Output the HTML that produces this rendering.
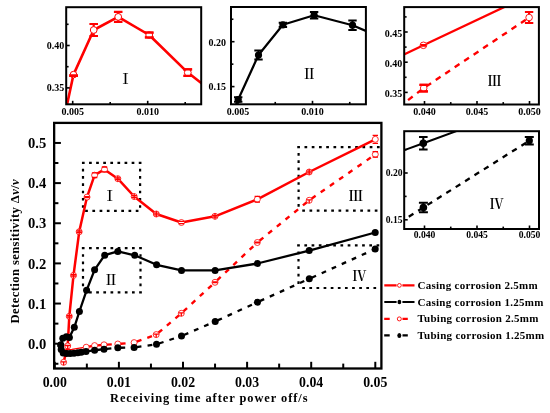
<!DOCTYPE html>
<html><head><meta charset="utf-8"><title>Detection sensitivity chart</title>
<style>html,body{margin:0;padding:0;background:#fff;}svg{display:block;}</style>
</head><body>
<svg width="550" height="413" viewBox="0 0 550 413"><rect width="550" height="413" fill="#fff"/><g><path d="M54.15 363.77H58.4" stroke="#000" stroke-width="2.0"/><path d="M54.15 343.70H60.9" stroke="#000" stroke-width="2.0"/><path d="M54.15 323.62H58.4" stroke="#000" stroke-width="2.0"/><path d="M54.15 303.55H60.9" stroke="#000" stroke-width="2.0"/><path d="M54.15 283.47H58.4" stroke="#000" stroke-width="2.0"/><path d="M54.15 263.40H60.9" stroke="#000" stroke-width="2.0"/><path d="M54.15 243.32H58.4" stroke="#000" stroke-width="2.0"/><path d="M54.15 223.25H60.9" stroke="#000" stroke-width="2.0"/><path d="M54.15 203.17H58.4" stroke="#000" stroke-width="2.0"/><path d="M54.15 183.10H60.9" stroke="#000" stroke-width="2.0"/><path d="M54.15 163.02H58.4" stroke="#000" stroke-width="2.0"/><path d="M54.15 142.95H60.9" stroke="#000" stroke-width="2.0"/><path d="M54.80 368.50V361.8" stroke="#000" stroke-width="2.0"/><path d="M86.85 368.50V363.6" stroke="#000" stroke-width="2.0"/><path d="M118.90 368.50V361.8" stroke="#000" stroke-width="2.0"/><path d="M150.95 368.50V363.6" stroke="#000" stroke-width="2.0"/><path d="M183.00 368.50V361.8" stroke="#000" stroke-width="2.0"/><path d="M215.05 368.50V363.6" stroke="#000" stroke-width="2.0"/><path d="M247.10 368.50V361.8" stroke="#000" stroke-width="2.0"/><path d="M279.15 368.50V363.6" stroke="#000" stroke-width="2.0"/><path d="M311.20 368.50V361.8" stroke="#000" stroke-width="2.0"/><path d="M343.25 368.50V363.6" stroke="#000" stroke-width="2.0"/><path d="M375.30 368.50V361.8" stroke="#000" stroke-width="2.0"/><text x="46.30" y="348.80" font-family="'Liberation Serif', 'Times New Roman', serif" font-size="14.6" font-weight="bold" text-anchor="end">0.0</text><text x="46.30" y="308.65" font-family="'Liberation Serif', 'Times New Roman', serif" font-size="14.6" font-weight="bold" text-anchor="end">0.1</text><text x="46.30" y="268.50" font-family="'Liberation Serif', 'Times New Roman', serif" font-size="14.6" font-weight="bold" text-anchor="end">0.2</text><text x="46.30" y="228.35" font-family="'Liberation Serif', 'Times New Roman', serif" font-size="14.6" font-weight="bold" text-anchor="end">0.3</text><text x="46.30" y="188.20" font-family="'Liberation Serif', 'Times New Roman', serif" font-size="14.6" font-weight="bold" text-anchor="end">0.4</text><text x="46.30" y="148.05" font-family="'Liberation Serif', 'Times New Roman', serif" font-size="14.6" font-weight="bold" text-anchor="end">0.5</text><text x="54.80" y="386.60" font-family="'Liberation Serif', 'Times New Roman', serif" font-size="13.8" font-weight="bold" text-anchor="middle">0.00</text><text x="118.90" y="386.60" font-family="'Liberation Serif', 'Times New Roman', serif" font-size="13.8" font-weight="bold" text-anchor="middle">0.01</text><text x="183.00" y="386.60" font-family="'Liberation Serif', 'Times New Roman', serif" font-size="13.8" font-weight="bold" text-anchor="middle">0.02</text><text x="247.10" y="386.60" font-family="'Liberation Serif', 'Times New Roman', serif" font-size="13.8" font-weight="bold" text-anchor="middle">0.03</text><text x="311.20" y="386.60" font-family="'Liberation Serif', 'Times New Roman', serif" font-size="13.8" font-weight="bold" text-anchor="middle">0.04</text><text x="375.30" y="386.60" font-family="'Liberation Serif', 'Times New Roman', serif" font-size="13.8" font-weight="bold" text-anchor="middle">0.05</text><text x="110.00" y="402.00" font-family="'Liberation Serif', 'Times New Roman', serif" font-size="12.4" font-weight="bold" text-anchor="start" letter-spacing="0.95">Receiving time after power off/s</text><text transform="translate(18.8 323.4) rotate(-90)" font-family="'Liberation Serif', 'Times New Roman', serif" font-size="12.6" font-weight="bold" letter-spacing="0.41">Detection sensitivity Δ<tspan font-style="italic">v</tspan>/<tspan font-style="italic">v</tspan></text><path d="M81.95 162.90h2.7M89.05 162.90h2.7M96.15 162.90h2.7M103.25 162.90h2.7M110.35 162.90h2.7M117.45 162.90h2.7M124.55 162.90h2.7M131.65 162.90h2.7M138.75 162.90h2.7M83.00 168.85v2.7M83.00 176.11v2.7M83.00 183.37v2.7M83.00 190.63v2.7M83.00 197.89v2.7M83.00 205.15v2.7M140.10 168.85v2.7M140.10 176.11v2.7M140.10 183.37v2.7M140.10 190.63v2.7M140.10 197.89v2.7M140.10 205.15v2.7M85.15 210.80h2.7M92.38 210.80h2.7M99.61 210.80h2.7M106.84 210.80h2.7M114.06 210.80h2.7M121.29 210.80h2.7M128.52 210.80h2.7M135.75 210.80h2.7M81.85 248.20h2.7M89.01 248.20h2.7M96.18 248.20h2.7M103.34 248.20h2.7M110.50 248.20h2.7M117.66 248.20h2.7M124.83 248.20h2.7M131.99 248.20h2.7M139.15 248.20h2.7M83.00 254.15v2.7M83.00 261.47v2.7M83.00 268.80v2.7M83.00 276.12v2.7M83.00 283.45v2.7M140.50 254.15v2.7M140.50 261.47v2.7M140.50 268.80v2.7M140.50 276.12v2.7M140.50 283.45v2.7M89.05 292.40h2.7M96.21 292.40h2.7M103.36 292.40h2.7M110.52 292.40h2.7M117.68 292.40h2.7M124.84 292.40h2.7M131.99 292.40h2.7M139.15 292.40h2.7M297.25 147.10h2.7M304.50 147.10h2.7M311.74 147.10h2.7M318.99 147.10h2.7M326.23 147.10h2.7M333.48 147.10h2.7M340.72 147.10h2.7M347.97 147.10h2.7M355.21 147.10h2.7M362.46 147.10h2.7M369.70 147.10h2.7M376.95 147.10h2.7M298.60 153.05v2.7M298.60 160.32v2.7M298.60 167.59v2.7M298.60 174.86v2.7M298.60 182.14v2.7M298.60 189.41v2.7M298.60 196.68v2.7M298.60 203.95v2.7M302.25 210.70h2.7M309.50 210.70h2.7M316.75 210.70h2.7M324.00 210.70h2.7M331.25 210.70h2.7M338.50 210.70h2.7M345.75 210.70h2.7M353.00 210.70h2.7M360.25 210.70h2.7M367.50 210.70h2.7M374.75 210.70h2.7M297.15 245.40h2.7M304.37 245.40h2.7M311.59 245.40h2.7M318.80 245.40h2.7M326.02 245.40h2.7M333.24 245.40h2.7M340.46 245.40h2.7M347.68 245.40h2.7M354.90 245.40h2.7M362.11 245.40h2.7M369.33 245.40h2.7M376.55 245.40h2.7M298.50 251.45v2.7M298.50 258.90v2.7M298.50 266.35v2.7M298.50 273.80v2.7M298.50 281.25v2.7M302.25 288.00h2.7M309.37 288.00h2.7M316.49 288.00h2.7M323.61 288.00h2.7M330.73 288.00h2.7M337.85 288.00h2.7M344.97 288.00h2.7M352.09 288.00h2.7M359.21 288.00h2.7M366.33 288.00h2.7M373.45 288.00h2.7" stroke="#000" stroke-width="2.2" fill="none"/><polyline points="60.00,350.20 64.00,350.00 68.00,349.70 72.00,349.30 76.50,348.60 81.00,347.90 86.20,347.20" fill="none" stroke="#ff0000" stroke-width="1.2" stroke-linejoin="round"/><path d="M86.20 347.20L94.60 345.60M94.60 345.60L104.00 344.80M104.00 344.80L117.80 344.00M117.80 344.00L134.10 342.60M134.10 342.60L156.20 334.60M156.20 334.60L181.30 313.30M181.30 313.30L215.00 282.30M215.00 282.30L257.30 242.50M257.30 242.50L309.20 200.30M309.20 200.30L375.30 154.40" fill="none" stroke="#ff0000" stroke-width="2.4" stroke-dasharray="5 6.2" stroke-dashoffset="8.4"/><polyline points="60.80,345.00 61.20,349.50 63.20,353.00 66.60,353.60 70.20,353.60 74.00,353.30 77.80,352.80 81.20,352.20 86.00,351.40" fill="none" stroke="#000000" stroke-width="2.3" stroke-linejoin="round" stroke-dasharray="5 6"/><path d="M86.00 351.40L94.60 350.30M94.60 350.30L104.00 349.20M104.00 349.20L117.80 347.80M117.80 347.80L134.10 347.50M134.10 347.50L156.50 344.30M156.50 344.30L181.50 336.00M181.50 336.00L215.20 321.50M215.20 321.50L257.40 302.20M257.40 302.20L309.30 278.80M309.30 278.80L375.20 249.00" fill="none" stroke="#000000" stroke-width="2.3" stroke-dasharray="4.8 6.2" stroke-dashoffset="8.4"/><polyline points="60.80,345.00 62.80,338.20 66.30,336.80 69.40,337.60 74.30,327.30 79.40,311.50 86.60,290.30 94.60,269.80 104.70,255.20 117.80,251.40 134.70,255.30 156.60,264.80 181.50,270.40 215.10,270.40 257.40,263.50 309.20,250.60 375.20,232.50" fill="none" stroke="#000000" stroke-width="2.3" stroke-linejoin="round"/><polyline points="63.60,362.30 67.70,345.90 69.30,316.30 73.50,275.40 79.20,231.80 87.00,197.10 94.60,175.20 104.50,169.40 117.80,178.70 134.20,196.50 156.30,214.00 181.40,222.50 215.00,216.30 257.30,199.30 309.20,172.00 375.30,139.30" fill="none" stroke="#ff0000" stroke-width="2.5" stroke-linejoin="round"/><circle cx="86.20" cy="347.20" r="3.0" fill="#fff" stroke="#ff0000" stroke-width="0.8"/><circle cx="94.60" cy="345.60" r="3.0" fill="#fff" stroke="#ff0000" stroke-width="0.8"/><circle cx="104.00" cy="344.80" r="3.0" fill="#fff" stroke="#ff0000" stroke-width="0.8"/><circle cx="117.80" cy="344.00" r="3.0" fill="#fff" stroke="#ff0000" stroke-width="0.8"/><circle cx="134.10" cy="342.60" r="3.0" fill="#fff" stroke="#ff0000" stroke-width="0.8"/><circle cx="156.20" cy="334.60" r="3.0" fill="#fff" stroke="#ff0000" stroke-width="0.8"/><path d="M153.50 334.20h5.4M156.20 334.20V337.60" stroke="#ff0000" stroke-width="1.3" fill="none"/><circle cx="181.30" cy="313.30" r="3.0" fill="#fff" stroke="#ff0000" stroke-width="0.8"/><path d="M178.60 312.90h5.4M181.30 312.90V316.30" stroke="#ff0000" stroke-width="1.3" fill="none"/><circle cx="215.00" cy="282.30" r="3.0" fill="#fff" stroke="#ff0000" stroke-width="0.8"/><path d="M212.30 281.90h5.4M212.30 282.70h5.4" stroke="#ff0000" stroke-width="1.3" fill="none"/><circle cx="257.30" cy="242.50" r="3.0" fill="#fff" stroke="#ff0000" stroke-width="0.8"/><path d="M254.60 242.10h5.4M254.60 242.90h5.4" stroke="#ff0000" stroke-width="1.3" fill="none"/><circle cx="309.20" cy="200.30" r="3.0" fill="#fff" stroke="#ff0000" stroke-width="0.8"/><path d="M306.50 199.90h5.4M309.20 199.90V203.30" stroke="#ff0000" stroke-width="1.3" fill="none"/><circle cx="375.30" cy="154.40" r="3.0" fill="#fff" stroke="#ff0000" stroke-width="0.8"/><path d="M372.60 151.70h5.4M372.60 157.10h5.4" stroke="#ff0000" stroke-width="1.3" fill="none"/><circle cx="60.80" cy="345.00" r="3.5" fill="#000"/><circle cx="61.20" cy="349.50" r="3.5" fill="#000"/><circle cx="63.20" cy="353.00" r="3.5" fill="#000"/><circle cx="66.60" cy="353.60" r="3.5" fill="#000"/><circle cx="70.20" cy="353.60" r="3.5" fill="#000"/><circle cx="74.00" cy="353.30" r="3.5" fill="#000"/><circle cx="77.80" cy="352.80" r="3.5" fill="#000"/><circle cx="81.20" cy="352.20" r="3.5" fill="#000"/><circle cx="86.00" cy="351.40" r="3.5" fill="#000"/><circle cx="94.60" cy="350.30" r="3.5" fill="#000"/><circle cx="104.00" cy="349.20" r="3.5" fill="#000"/><circle cx="117.80" cy="347.80" r="3.5" fill="#000"/><circle cx="134.10" cy="347.50" r="3.5" fill="#000"/><circle cx="156.50" cy="344.30" r="3.5" fill="#000"/><circle cx="181.50" cy="336.00" r="3.5" fill="#000"/><circle cx="215.20" cy="321.50" r="3.5" fill="#000"/><circle cx="257.40" cy="302.20" r="3.5" fill="#000"/><circle cx="309.30" cy="278.80" r="3.5" fill="#000"/><circle cx="375.20" cy="249.00" r="3.5" fill="#000"/><circle cx="60.80" cy="345.00" r="3.5" fill="#000"/><circle cx="62.80" cy="338.20" r="3.5" fill="#000"/><circle cx="66.30" cy="336.80" r="3.5" fill="#000"/><circle cx="69.40" cy="337.60" r="3.5" fill="#000"/><circle cx="74.30" cy="327.30" r="3.5" fill="#000"/><circle cx="79.40" cy="311.50" r="3.5" fill="#000"/><circle cx="86.60" cy="290.30" r="3.5" fill="#000"/><circle cx="94.60" cy="269.80" r="3.5" fill="#000"/><circle cx="104.70" cy="255.20" r="3.5" fill="#000"/><circle cx="117.80" cy="251.40" r="3.5" fill="#000"/><circle cx="134.70" cy="255.30" r="3.5" fill="#000"/><circle cx="156.60" cy="264.80" r="3.5" fill="#000"/><circle cx="181.50" cy="270.40" r="3.5" fill="#000"/><circle cx="215.10" cy="270.40" r="3.5" fill="#000"/><circle cx="257.40" cy="263.50" r="3.5" fill="#000"/><circle cx="309.20" cy="250.60" r="3.5" fill="#000"/><circle cx="375.20" cy="232.50" r="3.5" fill="#000"/><circle cx="63.60" cy="362.30" r="3.0" fill="#fff" stroke="#ff0000" stroke-width="0.8"/><path d="M60.90 361.90h5.4M63.60 361.90V365.30" stroke="#ff0000" stroke-width="1.3" fill="none"/><circle cx="67.70" cy="345.90" r="3.0" fill="#fff" stroke="#ff0000" stroke-width="0.8"/><path d="M65.00 345.50h5.4M67.70 345.50V348.90" stroke="#ff0000" stroke-width="1.3" fill="none"/><circle cx="69.30" cy="316.30" r="3.0" fill="#fff" stroke="#ff0000" stroke-width="0.8"/><path d="M66.60 315.50h5.4M66.60 317.10h5.4M69.30 313.30V319.30" stroke="#ff0000" stroke-width="1.3" fill="none"/><circle cx="73.50" cy="275.40" r="3.0" fill="#fff" stroke="#ff0000" stroke-width="0.8"/><path d="M70.80 274.60h5.4M70.80 276.20h5.4M73.50 272.40V278.40" stroke="#ff0000" stroke-width="1.3" fill="none"/><circle cx="79.20" cy="231.80" r="3.0" fill="#fff" stroke="#ff0000" stroke-width="0.8"/><path d="M76.50 231.00h5.4M76.50 232.60h5.4M79.20 228.80V234.80" stroke="#ff0000" stroke-width="1.3" fill="none"/><circle cx="87.00" cy="197.10" r="3.0" fill="#fff" stroke="#ff0000" stroke-width="0.8"/><path d="M84.30 196.60h5.4M84.30 197.60h5.4" stroke="#ff0000" stroke-width="1.3" fill="none"/><circle cx="94.60" cy="175.20" r="3.0" fill="#fff" stroke="#ff0000" stroke-width="0.8"/><path d="M91.90 172.90h5.4M91.90 177.50h5.4" stroke="#ff0000" stroke-width="1.3" fill="none"/><circle cx="104.50" cy="169.40" r="3.0" fill="#fff" stroke="#ff0000" stroke-width="0.8"/><path d="M101.80 167.00h5.4M101.80 171.80h5.4" stroke="#ff0000" stroke-width="1.3" fill="none"/><circle cx="117.80" cy="178.70" r="3.0" fill="#fff" stroke="#ff0000" stroke-width="0.8"/><path d="M115.10 177.90h5.4M115.10 179.50h5.4M117.80 175.70V181.70" stroke="#ff0000" stroke-width="1.3" fill="none"/><circle cx="134.20" cy="196.50" r="3.0" fill="#fff" stroke="#ff0000" stroke-width="0.8"/><path d="M131.50 195.70h5.4M131.50 197.30h5.4M134.20 193.50V199.50" stroke="#ff0000" stroke-width="1.3" fill="none"/><circle cx="156.30" cy="214.00" r="3.0" fill="#fff" stroke="#ff0000" stroke-width="0.8"/><path d="M153.60 213.20h5.4M153.60 214.80h5.4M156.30 211.00V217.00" stroke="#ff0000" stroke-width="1.3" fill="none"/><circle cx="181.40" cy="222.50" r="3.0" fill="#fff" stroke="#ff0000" stroke-width="0.8"/><path d="M178.70 221.30h5.4M178.70 223.70h5.4" stroke="#ff0000" stroke-width="1.3" fill="none"/><circle cx="215.00" cy="216.30" r="3.0" fill="#fff" stroke="#ff0000" stroke-width="0.8"/><path d="M212.30 215.50h5.4M212.30 217.10h5.4M215.00 213.30V219.30" stroke="#ff0000" stroke-width="1.3" fill="none"/><circle cx="257.30" cy="199.30" r="3.0" fill="#fff" stroke="#ff0000" stroke-width="0.8"/><path d="M254.60 196.40h5.4M254.60 202.20h5.4" stroke="#ff0000" stroke-width="1.3" fill="none"/><circle cx="309.20" cy="172.00" r="3.0" fill="#fff" stroke="#ff0000" stroke-width="0.8"/><path d="M306.50 171.20h5.4M306.50 172.80h5.4M309.20 169.00V175.00" stroke="#ff0000" stroke-width="1.3" fill="none"/><circle cx="375.30" cy="139.30" r="3.0" fill="#fff" stroke="#ff0000" stroke-width="0.8"/><path d="M372.60 135.30h5.4M372.60 143.30h5.4" stroke="#ff0000" stroke-width="1.3" fill="none"/><text x="109.80" y="200.80" font-family="'Noto Serif CJK SC', 'Liberation Serif', serif" font-size="14" font-weight="600" text-anchor="middle">Ⅰ</text><text x="111.00" y="284.50" font-family="'Noto Serif CJK SC', 'Liberation Serif', serif" font-size="14" font-weight="600" text-anchor="middle">Ⅱ</text><text x="355.80" y="200.80" font-family="'Noto Serif CJK SC', 'Liberation Serif', serif" font-size="14.5" font-weight="600" text-anchor="middle">Ⅲ</text><text x="359.50" y="281.30" font-family="'Noto Serif CJK SC', 'Liberation Serif', serif" font-size="14" font-weight="600" text-anchor="middle">Ⅳ</text><rect x="54.15" y="122.90" width="327.25" height="245.60" fill="none" stroke="#000" stroke-width="2.3"/></g><path d="M384.3 285.4H396.6M402.4 285.4H414.5" stroke="#ff0000" stroke-width="2.1"/><circle cx="399.4" cy="285.4" r="1.9" fill="#fff" stroke="#ff0000" stroke-width="0.9"/><path d="M384.3 302.0H396.6M402.4 302.0H414.5" stroke="#000" stroke-width="2.1"/><ellipse cx="399.4" cy="302.0" rx="1.9" ry="2.3" fill="#000"/><path d="M384.2 318.9H389.7M402.5 318.9H407.8" stroke="#ff0000" stroke-width="2.1"/><circle cx="399.3" cy="318.9" r="2.0" fill="#fff" stroke="#ff0000" stroke-width="0.9"/><path d="M384.2 335.4H389.7M402.5 335.4H407.8" stroke="#000" stroke-width="2.1"/><ellipse cx="399.3" cy="335.4" rx="2.0" ry="2.5" fill="#000"/><text x="417.50" y="288.80" font-family="'Liberation Serif', 'Times New Roman', serif" font-size="11" font-weight="bold" text-anchor="start" letter-spacing="0.27">Casing corrosion 2.5mm</text><text x="417.50" y="305.60" font-family="'Liberation Serif', 'Times New Roman', serif" font-size="11" font-weight="bold" text-anchor="start" letter-spacing="0.27">Casing corrosion 1.25mm</text><text x="417.50" y="322.30" font-family="'Liberation Serif', 'Times New Roman', serif" font-size="11" font-weight="bold" text-anchor="start" letter-spacing="0.27">Tubing corrosion 2.5mm</text><text x="417.50" y="339.10" font-family="'Liberation Serif', 'Times New Roman', serif" font-size="11" font-weight="bold" text-anchor="start" letter-spacing="0.27">Tubing corrosion 1.25mm</text><clipPath id="c1"><rect x="66.2" y="7.2" width="135.0" height="97.1"/></clipPath><g clip-path="url(#c1)"><polyline points="57.70,148.00 73.50,74.60 93.70,30.00 118.20,16.90 149.20,35.00 187.80,72.60 237.70,111.60" fill="none" stroke="#ff0000" stroke-width="2.6" stroke-linejoin="round"/><circle cx="73.5" cy="74.6" r="3.3" fill="#fff" stroke="#ff0000" stroke-width="1.0"/><path d="M69.1 75.6h8.9" stroke="#ff0000" stroke-width="2.8"/><path d="M93.70 24.00V36.00M89.40 24.00h8.6M89.40 36.00h8.6" stroke="#ff0000" stroke-width="2.2" fill="none"/><circle cx="93.70" cy="30.00" r="3.4" fill="#fff" stroke="#ff0000" stroke-width="1.0"/><path d="M118.20 11.90V21.90M113.90 11.90h8.6M113.90 21.90h8.6" stroke="#ff0000" stroke-width="2.2" fill="none"/><circle cx="118.20" cy="16.90" r="3.4" fill="#fff" stroke="#ff0000" stroke-width="1.0"/><path d="M149.20 32.70V37.30M144.90 32.70h8.6M144.90 37.30h8.6" stroke="#ff0000" stroke-width="2.2" fill="none"/><circle cx="149.20" cy="35.00" r="3.4" fill="#fff" stroke="#ff0000" stroke-width="1.0"/><path d="M144.90 32.70h8.6M144.90 37.30h8.6" stroke="#ff0000" stroke-width="2.2" fill="none"/><path d="M187.80 69.35V75.85M183.50 69.35h8.6M183.50 75.85h8.6" stroke="#ff0000" stroke-width="2.2" fill="none"/><circle cx="187.80" cy="72.60" r="3.4" fill="#fff" stroke="#ff0000" stroke-width="1.0"/><path d="M183.50 69.35h8.6M183.50 75.85h8.6" stroke="#ff0000" stroke-width="2.2" fill="none"/></g><path d="M72.70 104.30v-3.5" stroke="#000" stroke-width="1.6"/><path d="M110.20 104.30v-2.4" stroke="#000" stroke-width="1.6"/><path d="M147.70 104.30v-3.5" stroke="#000" stroke-width="1.6"/><path d="M185.20 104.30v-2.4" stroke="#000" stroke-width="1.6"/><path d="M66.20 87.90h3.5" stroke="#000" stroke-width="1.6"/><path d="M66.20 66.70h2.4" stroke="#000" stroke-width="1.6"/><path d="M66.20 45.50h3.5" stroke="#000" stroke-width="1.6"/><path d="M66.20 24.30h2.4" stroke="#000" stroke-width="1.6"/><text x="72.70" y="114.50" font-family="'Liberation Serif', 'Times New Roman', serif" font-size="10" font-weight="bold" text-anchor="middle">0.005</text><text x="147.70" y="114.50" font-family="'Liberation Serif', 'Times New Roman', serif" font-size="10" font-weight="bold" text-anchor="middle">0.010</text><text x="64.20" y="91.10" font-family="'Liberation Serif', 'Times New Roman', serif" font-size="10" font-weight="bold" text-anchor="end">0.35</text><text x="64.20" y="48.70" font-family="'Liberation Serif', 'Times New Roman', serif" font-size="10" font-weight="bold" text-anchor="end">0.40</text><text x="125.40" y="83.70" font-family="'Noto Serif CJK SC', 'Liberation Serif', serif" font-size="14" font-weight="600" text-anchor="middle">Ⅰ</text><rect x="66.20" y="7.20" width="135.00" height="97.10" fill="none" stroke="#000" stroke-width="2.0"/><clipPath id="c2"><rect x="231.0" y="7.0" width="134.89999999999998" height="97.3"/></clipPath><g clip-path="url(#c2)"><polyline points="225.00,130.00 238.20,99.50 258.50,55.00 282.90,24.80 314.10,15.20 352.50,25.20 380.00,37.00" fill="none" stroke="#000000" stroke-width="2.2" stroke-linejoin="round"/><path d="M238.20 97.30V101.70M234.00 97.30h8.4M234.00 101.70h8.4" stroke="#000" stroke-width="2.0" fill="none"/><circle cx="238.20" cy="99.50" r="3.6" fill="#000"/><path d="M258.50 50.40V59.60M254.30 50.40h8.4M254.30 59.60h8.4" stroke="#000" stroke-width="2.0" fill="none"/><circle cx="258.50" cy="55.00" r="3.6" fill="#000"/><path d="M282.90 22.70V26.90M278.70 22.70h8.4M278.70 26.90h8.4" stroke="#000" stroke-width="2.0" fill="none"/><circle cx="282.90" cy="24.80" r="3.6" fill="#000"/><path d="M314.10 11.90V18.50M309.90 11.90h8.4M309.90 18.50h8.4" stroke="#000" stroke-width="2.0" fill="none"/><circle cx="314.10" cy="15.20" r="3.6" fill="#000"/><path d="M352.50 20.50V29.90M348.30 20.50h8.4M348.30 29.90h8.4" stroke="#000" stroke-width="2.0" fill="none"/><circle cx="352.50" cy="25.20" r="3.6" fill="#000"/></g><path d="M238.00 104.30v-3.5" stroke="#000" stroke-width="1.6"/><path d="M275.25 104.30v-2.4" stroke="#000" stroke-width="1.6"/><path d="M312.50 104.30v-3.5" stroke="#000" stroke-width="1.6"/><path d="M349.75 104.30v-2.4" stroke="#000" stroke-width="1.6"/><path d="M231.00 86.60h3.5" stroke="#000" stroke-width="1.6"/><path d="M231.00 64.15h2.4" stroke="#000" stroke-width="1.6"/><path d="M231.00 41.70h3.5" stroke="#000" stroke-width="1.6"/><path d="M231.00 19.25h2.4" stroke="#000" stroke-width="1.6"/><text x="238.00" y="114.50" font-family="'Liberation Serif', 'Times New Roman', serif" font-size="10" font-weight="bold" text-anchor="middle">0.005</text><text x="312.50" y="114.50" font-family="'Liberation Serif', 'Times New Roman', serif" font-size="10" font-weight="bold" text-anchor="middle">0.010</text><text x="226.00" y="90.40" font-family="'Liberation Serif', 'Times New Roman', serif" font-size="10" font-weight="bold" text-anchor="end">0.15</text><text x="226.00" y="45.50" font-family="'Liberation Serif', 'Times New Roman', serif" font-size="10" font-weight="bold" text-anchor="end">0.20</text><text x="309.20" y="78.50" font-family="'Noto Serif CJK SC', 'Liberation Serif', serif" font-size="14" font-weight="600" text-anchor="middle">Ⅱ</text><rect x="231.00" y="7.00" width="134.90" height="97.30" fill="none" stroke="#000" stroke-width="2.0"/><clipPath id="c3"><rect x="404.2" y="7.1" width="134.7" height="97.4"/></clipPath><g clip-path="url(#c3)"><polyline points="390.00,61.10 423.40,45.30 529.00,-4.65" fill="none" stroke="#ff0000" stroke-width="2.3" stroke-linejoin="round"/><polyline points="390.00,114.00 423.70,88.10 529.10,17.50" fill="none" stroke="#ff0000" stroke-width="2.4" stroke-linejoin="round" stroke-dasharray="5.8 5.6"/><path d="M423.40 44.70V45.90M420.40 44.70h6.0M420.40 45.90h6.0" stroke="#ff0000" stroke-width="1.6" fill="none"/><circle cx="423.40" cy="45.30" r="3.3" fill="#fff" stroke="#ff0000" stroke-width="0.9"/><path d="M420.40 44.70h6.0M420.40 45.90h6.0" stroke="#ff0000" stroke-width="1.6" fill="none"/><path d="M423.70 84.90V91.30M419.50 84.90h8.4M419.50 91.30h8.4" stroke="#ff0000" stroke-width="2.2" fill="none"/><circle cx="423.70" cy="88.10" r="3.3" fill="#fff" stroke="#ff0000" stroke-width="0.9"/><path d="M419.50 84.90h8.4M419.50 91.30h8.4" stroke="#ff0000" stroke-width="2.2" fill="none"/><path d="M529.10 12.00V23.00M524.90 12.00h8.4M524.90 23.00h8.4" stroke="#ff0000" stroke-width="2.2" fill="none"/><circle cx="529.10" cy="17.50" r="3.3" fill="#fff" stroke="#ff0000" stroke-width="0.9"/></g><path d="M424.50 104.50v-3.5" stroke="#000" stroke-width="1.6"/><path d="M450.75 104.50v-2.4" stroke="#000" stroke-width="1.6"/><path d="M477.00 104.50v-3.5" stroke="#000" stroke-width="1.6"/><path d="M503.25 104.50v-2.4" stroke="#000" stroke-width="1.6"/><path d="M529.50 104.50v-3.5" stroke="#000" stroke-width="1.6"/><path d="M404.20 92.40h3.5" stroke="#000" stroke-width="1.6"/><path d="M404.20 77.30h2.4" stroke="#000" stroke-width="1.6"/><path d="M404.20 62.20h3.5" stroke="#000" stroke-width="1.6"/><path d="M404.20 47.10h2.4" stroke="#000" stroke-width="1.6"/><path d="M404.20 32.00h3.5" stroke="#000" stroke-width="1.6"/><path d="M404.20 16.90h2.4" stroke="#000" stroke-width="1.6"/><text x="424.50" y="114.50" font-family="'Liberation Serif', 'Times New Roman', serif" font-size="10" font-weight="bold" text-anchor="middle">0.040</text><text x="477.00" y="114.50" font-family="'Liberation Serif', 'Times New Roman', serif" font-size="10" font-weight="bold" text-anchor="middle">0.045</text><text x="529.50" y="114.50" font-family="'Liberation Serif', 'Times New Roman', serif" font-size="10" font-weight="bold" text-anchor="middle">0.050</text><text x="402.30" y="97.20" font-family="'Liberation Serif', 'Times New Roman', serif" font-size="10" font-weight="bold" text-anchor="end">0.35</text><text x="402.30" y="67.00" font-family="'Liberation Serif', 'Times New Roman', serif" font-size="10" font-weight="bold" text-anchor="end">0.40</text><text x="402.30" y="36.80" font-family="'Liberation Serif', 'Times New Roman', serif" font-size="10" font-weight="bold" text-anchor="end">0.45</text><text x="494.50" y="85.80" font-family="'Noto Serif CJK SC', 'Liberation Serif', serif" font-size="14" font-weight="600" text-anchor="middle">Ⅲ</text><rect x="404.20" y="7.10" width="134.70" height="97.40" fill="none" stroke="#000" stroke-width="2.0"/><clipPath id="c4"><rect x="404.2" y="131.2" width="134.8" height="97.80000000000001"/></clipPath><g clip-path="url(#c4)"><polyline points="390.00,155.40 423.30,143.20 529.00,104.50" fill="none" stroke="#000000" stroke-width="2.0" stroke-linejoin="round"/><polyline points="390.00,228.60 423.40,207.50 529.30,140.70" fill="none" stroke="#000000" stroke-width="2.3" stroke-linejoin="round" stroke-dasharray="5.5 5.6"/><path d="M423.30 137.00V149.40M419.00 137.00h8.6M419.00 149.40h8.6" stroke="#000" stroke-width="2.0" fill="none"/><circle cx="423.30" cy="143.20" r="3.8" fill="#000"/><path d="M423.40 202.70V212.30M418.90 202.70h9.0M418.90 212.30h9.0" stroke="#000" stroke-width="2.0" fill="none"/><circle cx="423.40" cy="207.50" r="3.8" fill="#000"/><path d="M529.30 136.90V144.50M524.80 136.90h9.0M524.80 144.50h9.0" stroke="#000" stroke-width="2.0" fill="none"/><circle cx="529.30" cy="140.70" r="3.6" fill="#000"/></g><path d="M424.50 229.00v-3.5" stroke="#000" stroke-width="1.6"/><path d="M450.75 229.00v-2.4" stroke="#000" stroke-width="1.6"/><path d="M477.00 229.00v-3.5" stroke="#000" stroke-width="1.6"/><path d="M503.25 229.00v-2.4" stroke="#000" stroke-width="1.6"/><path d="M529.50 229.00v-3.5" stroke="#000" stroke-width="1.6"/><path d="M404.20 219.80h3.5" stroke="#000" stroke-width="1.6"/><path d="M404.20 196.40h2.4" stroke="#000" stroke-width="1.6"/><path d="M404.20 173.00h3.5" stroke="#000" stroke-width="1.6"/><path d="M404.20 149.60h2.4" stroke="#000" stroke-width="1.6"/><text x="424.50" y="237.90" font-family="'Liberation Serif', 'Times New Roman', serif" font-size="9.6" font-weight="bold" text-anchor="middle">0.040</text><text x="477.00" y="237.90" font-family="'Liberation Serif', 'Times New Roman', serif" font-size="9.6" font-weight="bold" text-anchor="middle">0.045</text><text x="529.50" y="237.90" font-family="'Liberation Serif', 'Times New Roman', serif" font-size="9.6" font-weight="bold" text-anchor="middle">0.050</text><text x="402.60" y="223.10" font-family="'Liberation Serif', 'Times New Roman', serif" font-size="9.6" font-weight="bold" text-anchor="end">0.15</text><text x="402.60" y="176.30" font-family="'Liberation Serif', 'Times New Roman', serif" font-size="9.6" font-weight="bold" text-anchor="end">0.20</text><text x="496.80" y="208.50" font-family="'Noto Serif CJK SC', 'Liberation Serif', serif" font-size="14" font-weight="600" text-anchor="middle">Ⅳ</text><rect x="404.20" y="131.20" width="134.80" height="97.80" fill="none" stroke="#000" stroke-width="2.0"/></svg>
</body></html>
